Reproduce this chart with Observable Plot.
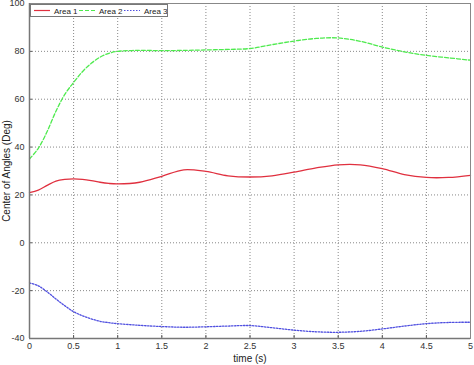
<!DOCTYPE html>
<html>
<head>
<meta charset="utf-8">
<script src="https://cdn.jsdelivr.net/npm/d3@7"></script>
<script src="https://cdn.jsdelivr.net/npm/@observablehq/plot@0.6"></script>
<style>
  html, body { margin: 0; padding: 0; background: #fff; }
  #wrap { position: relative; width: 474px; height: 365px; font-family: "Liberation Sans", Arial, sans-serif; }
  #legend { position: absolute; left: 30px; top: 4px; width: 138px; height: 13px; border: 1px solid #777; background: #fff; box-sizing: border-box; }
</style>
</head>
<body>
<div id="wrap"></div>
<script>
const seriesNames = ["Area 1", "Area 2", "Area 3"];
const seriesColors = ["#e0303f", "#4eea4e", "#5050e0"];
const seriesDash = ["none", "4,2", "1.5,1.5"];
const time = [0,0.1,0.2,0.3,0.4,0.5,0.6,0.7,0.8,0.9,1,1.25,1.5,1.75,2,2.25,2.5,2.75,3,3.25,3.5,3.75,4,4.25,4.5,4.75,5];
const area1 = [21,22,24,25.8,26.5,26.7,26.5,26,25.3,24.8,24.6,25.3,27.8,30.5,29.8,28,27.5,28,29.5,31.3,32.6,32.6,31,28.5,27.3,27.3,28.2];
const area2 = [35,39.5,46.5,55,62,67,71.5,75,77.6,79.2,80,80.4,80.3,80.4,80.6,80.8,81.2,82.8,84.3,85.4,85.6,84.2,81.8,79.8,78.3,77.3,76.3];
const area3 = [-16.8,-18,-20.5,-23.5,-26.3,-28.8,-30.5,-31.8,-32.8,-33.4,-33.8,-34.5,-35,-35.3,-35.1,-34.8,-34.6,-35.5,-36.5,-37.2,-37.4,-37,-36,-34.8,-33.8,-33.3,-33.2];
const xTicks = [0,0.5,1,1.5,2,2.5,3,3.5,4,4.5,5];
const yTicks = [-40,-20,0,20,40,60,80,100];

const values = [area1, area2, area3];
const data = [];
seriesNames.forEach((s, i) => time.forEach((t, j) => data.push({series: s, t, v: values[i][j]})));

const chart = Plot.plot({
  width: 474,
  height: 365,
  marginLeft: 29,
  marginRight: 4,
  marginTop: 3,
  marginBottom: 27,
  style: { fontFamily: "Liberation Sans, Arial, sans-serif", fontSize: "9px", color: "#333", background: "#fff" },
  x: { domain: [0, 5], ticks: xTicks, tickFormat: d => String(d), label: null },
  y: { domain: [-40, 100], ticks: yTicks, tickFormat: d => String(d), label: null },
  marks: [
    Plot.ruleX(xTicks.slice(1, -1), { stroke: "#888", strokeDasharray: "1,2", strokeWidth: 1 }),
    Plot.ruleY(yTicks.slice(1, -1), { stroke: "#888", strokeDasharray: "1,2", strokeWidth: 1 }),
    Plot.axisX({ ticks: xTicks, tickSize: -3, stroke: "#555", tickPadding: 7, tickFormat: d => String(d) }),
    Plot.axisY({ ticks: yTicks, tickSize: -3, stroke: "#555", tickPadding: 8, tickFormat: d => String(d) }),
    ...seriesNames.map((s, i) => Plot.line(data.filter(d => d.series === s), {
      x: "t", y: "v", stroke: seriesColors[i], strokeWidth: 1.3,
      strokeDasharray: seriesDash[i] === "none" ? null : seriesDash[i], curve: "catmull-rom"
    })),
    Plot.frame({ stroke: "#888", strokeWidth: 1 }),
    Plot.ruleX([0], { stroke: "#777", strokeWidth: 1.5 }),
    Plot.ruleY([-40], { stroke: "#777", strokeWidth: 1.5 }),
    Plot.text(["time (s)"], { frameAnchor: "bottom", dy: 20, lineAnchor: "middle", fontSize: 10, fill: "#222" }),
    Plot.text(["Center of Angles (Deg)"], { frameAnchor: "left", dx: -23, rotate: -90, textAnchor: "middle", fontSize: 10, fill: "#222" })
  ]
});
const wrap = document.getElementById("wrap");
wrap.appendChild(chart);

// legend
const leg = document.createElement("div");
leg.id = "legend";
const ns = "http://www.w3.org/2000/svg";
const svg = document.createElementNS(ns, "svg");
svg.setAttribute("width", 136); svg.setAttribute("height", 11);
svg.style.display = "block";
let x = 3;
seriesNames.forEach((s, i) => {
  const line = document.createElementNS(ns, "line");
  line.setAttribute("x1", x); line.setAttribute("x2", x + 16);
  line.setAttribute("y1", 5.5); line.setAttribute("y2", 5.5);
  line.setAttribute("stroke", seriesColors[i]); line.setAttribute("stroke-width", 1.2);
  if (seriesDash[i] !== "none") line.setAttribute("stroke-dasharray", seriesDash[i]);
  svg.appendChild(line);
  const tx = document.createElementNS(ns, "text");
  tx.setAttribute("x", x + 20); tx.setAttribute("y", 8.5);
  tx.setAttribute("font-size", 8); tx.setAttribute("fill", "#222");
  tx.setAttribute("font-family", "Liberation Sans, Arial, sans-serif");
  tx.textContent = s;
  svg.appendChild(tx);
  x += 45;
});
leg.appendChild(svg);
wrap.appendChild(leg);
</script>
</body>
</html>
